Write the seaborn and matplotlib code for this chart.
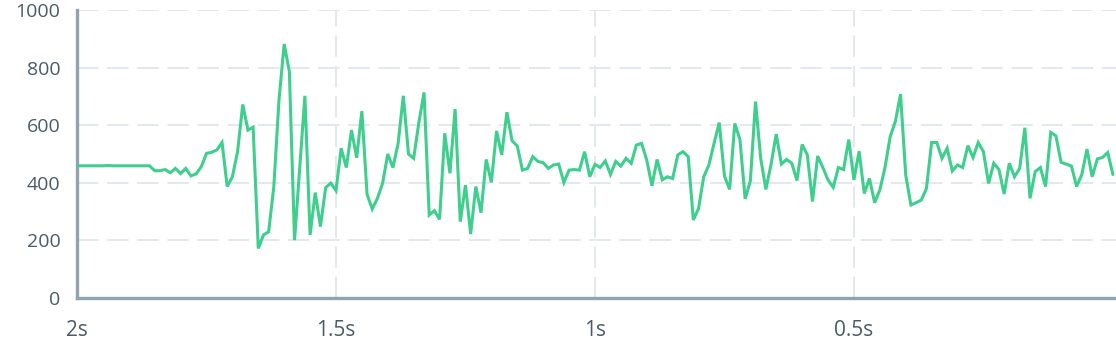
import numpy as np
import pandas as pd
import matplotlib
matplotlib.use("Agg")
import matplotlib.pyplot as plt
import seaborn as sns

# values sampled every 10 ms, from 2 s ago down to now
values = [
    459, 459, 459, 459, 459, 459, 460, 459, 459, 459, 459, 459, 459, 459, 459,
    442, 442, 446, 435, 450, 432, 450, 424, 431, 456, 502, 506, 514, 540, 387,
    421, 508, 672, 583, 593, 172, 219, 230, 387, 688, 882, 786, 201, 450, 702,
    219, 366, 248, 383, 399, 373, 520, 453, 583, 487, 649, 360, 309, 346, 398,
    500, 453, 537, 702, 500, 485, 609, 714, 288, 303, 273, 572, 433, 656, 265,
    392, 222, 387, 296, 481, 401, 580, 497, 645, 546, 528, 444, 450, 491, 474,
    470, 450, 462, 465, 401, 444, 446, 444, 508, 421, 464, 453, 476, 429, 474,
    458, 485, 468, 531, 537, 479, 390, 481, 410, 421, 415, 497, 508, 491, 271,
    311, 421, 462, 537, 609, 424, 377, 606, 550, 344, 406, 682, 485, 377, 464,
    569, 465, 481, 468, 408, 533, 497, 335, 493, 453, 410, 384, 453, 446, 550,
    410, 510, 363, 415, 331, 375, 453, 560, 613, 708, 427, 323, 331, 340, 380,
    540, 540, 485, 520, 441, 462, 453, 529, 488, 540, 508, 398, 468, 446, 361,
    468, 421, 450, 591, 346, 439, 453, 387, 575, 563, 471, 465, 458, 387, 429,
    517, 421, 483, 488, 505, 429,
]
times = np.round(np.linspace(2.0, 0.0, len(values)), 3)

x_ticks = [2.0, 1.5, 1.0, 0.5]
x_tick_labels = ["2s", "1.5s", "1s", "0.5s"]
y_ticks = [0, 200, 400, 600, 800, 1000]

df = pd.DataFrame({"t": times, "v": values})

sns.set_style("white")
plt.rcParams["font.family"] = ["Open Sans", "DejaVu Sans"]

fig = plt.figure(figsize=(11.16, 3.47), dpi=100)
ax = fig.add_axes([77 / 1116, 1 - 298 / 347, 1 - 77 / 1116, (298 - 10) / 347])

sns.lineplot(data=df, x="t", y="v", ax=ax, color="#3ecf8e", linewidth=2.2,
             zorder=3, solid_joinstyle="miter")

ax.set_xlim(2.0, -0.006)
ax.set_ylim(0, 1000)
ax.set_xticks(x_ticks)
ax.set_xticklabels(x_tick_labels)
ax.set_yticks(y_ticks)
ax.set_xlabel("")
ax.set_ylabel("")

axis_col = "#90a4ae"
text_col = "#4a5b66"
for s in ["top", "right"]:
    ax.spines[s].set_visible(False)
for s in ["left", "bottom"]:
    ax.spines[s].set_color(axis_col)
    ax.spines[s].set_linewidth(2.4)

ax.grid(True, axis="both", color="#e3e8ec", linestyle=(0, (11, 4.5)), linewidth=1.4, zorder=0)
ax.tick_params(axis="x", length=7, width=1.5, color=axis_col, labelcolor=text_col,
               labelsize=15, pad=9)
ax.tick_params(axis="y", length=7, width=1.5, color=axis_col, labelcolor=text_col,
               labelsize=14, pad=5)
ax.set_axisbelow(True)

fig.savefig("out.png", dpi=100)
